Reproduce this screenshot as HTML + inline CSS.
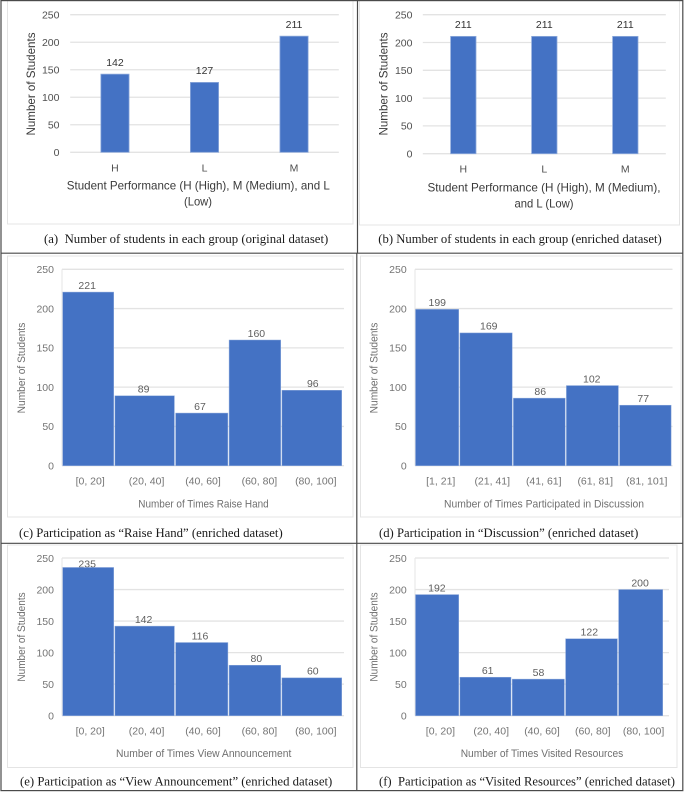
<!DOCTYPE html>
<html lang="en">
<head>
<meta charset="utf-8">
<title>Student performance and participation charts</title>
<style>
  html, body { margin: 0; padding: 0; background: #fff; }
  svg { display: block; }
  .sans { font-family: "Liberation Sans", sans-serif; }
  .serif { font-family: "Liberation Serif", serif; font-size: 12.5px; fill: #1a1a1a; white-space: pre; }
  .title-dark { font-size: 11.8px; fill: #3a3a3a; }
  .title-grey { font-size: 10.8px; fill: #707070; }
  .panel { fill: #fff; stroke: #e4e4e4; stroke-width: 1; }
  .frame { stroke: #4a4a4a; stroke-width: 1.2; fill: none; }
</style>
</head>
<body>
<svg id="figure" width="685" height="792" viewBox="0 0 685 792" xmlns="http://www.w3.org/2000/svg">
  <rect x="0" y="0" width="685" height="792" fill="#fff"/>

  <g>
    <rect class="panel" x="7.5" y="-2" width="345.5" height="226"/>
    <rect class="panel" x="359.5" y="-2" width="320" height="227"/>
    <rect class="panel" x="7.5" y="256" width="345.5" height="261"/>
    <rect class="panel" x="360.5" y="256" width="320.5" height="261"/>
    <rect class="panel" x="7.5" y="545" width="345.5" height="222.5"/>
    <rect class="panel" x="360.5" y="545" width="316.5" height="222.5"/>
  </g>

  <g id="chart-a" class="sans">
    <text class="title-dark" transform="translate(35,84) rotate(-90)" text-anchor="middle" textLength="103" lengthAdjust="spacingAndGlyphs">Number of Students</text>
    <text class="title-dark" x="198.3" y="189.7" text-anchor="middle" textLength="263" lengthAdjust="spacingAndGlyphs">Student Performance (H (High), M (Medium), and L</text>
    <text class="title-dark" x="198" y="205.7" text-anchor="middle" textLength="28" lengthAdjust="spacingAndGlyphs">(Low)</text>
  </g>
  <g id="chart-b" class="sans">
    <text class="title-dark" transform="translate(387.7,84) rotate(-90)" text-anchor="middle" textLength="103" lengthAdjust="spacingAndGlyphs">Number of Students</text>
    <text class="title-dark" x="544" y="191.3" text-anchor="middle" textLength="233" lengthAdjust="spacingAndGlyphs">Student Performance (H (High), M (Medium),</text>
    <text class="title-dark" x="544" y="207.3" text-anchor="middle" textLength="59" lengthAdjust="spacingAndGlyphs">and L (Low)</text>
  </g>
  <g id="chart-c" class="sans">
    <text class="title-grey" transform="translate(25,368) rotate(-90)" text-anchor="middle" textLength="90.7" lengthAdjust="spacingAndGlyphs">Number of Students</text>
    <text class="title-grey" x="203.5" y="507.3" text-anchor="middle" textLength="130.4" lengthAdjust="spacingAndGlyphs">Number of Times Raise Hand</text>
  </g>
  <g id="chart-d" class="sans">
    <text class="title-grey" transform="translate(377.7,368) rotate(-90)" text-anchor="middle" textLength="90.7" lengthAdjust="spacingAndGlyphs">Number of Students</text>
    <text class="title-grey" x="544" y="507.3" text-anchor="middle" textLength="200" lengthAdjust="spacingAndGlyphs">Number of Times Participated in Discussion</text>
  </g>
  <g id="chart-e" class="sans">
    <text class="title-grey" transform="translate(25,637) rotate(-90)" text-anchor="middle" textLength="89.3" lengthAdjust="spacingAndGlyphs">Number of Students</text>
    <text class="title-grey" x="203.7" y="757" text-anchor="middle" textLength="175.3" lengthAdjust="spacingAndGlyphs">Number of Times View Announcement</text>
  </g>
  <g id="chart-f" class="sans">
    <text class="title-grey" transform="translate(377.7,637) rotate(-90)" text-anchor="middle" textLength="89.3" lengthAdjust="spacingAndGlyphs">Number of Students</text>
    <text class="title-grey" x="542" y="757" text-anchor="middle" textLength="162.6" lengthAdjust="spacingAndGlyphs">Number of Times Visited Resources</text>
  </g>

  <g>
    <text class="serif" x="44" y="243" textLength="284.3" lengthAdjust="spacingAndGlyphs">(a)  Number of students in each group (original dataset)</text>
    <text class="serif" x="378.3" y="243" textLength="283.4" lengthAdjust="spacingAndGlyphs">(b) Number of students in each group (enriched dataset)</text>
    <text class="serif" x="19" y="537" textLength="263.7" lengthAdjust="spacingAndGlyphs">(c) Participation as “Raise Hand” (enriched dataset)</text>
    <text class="serif" x="379" y="537" textLength="259.3" lengthAdjust="spacingAndGlyphs">(d) Participation in “Discussion” (enriched dataset)</text>
    <text class="serif" x="20" y="785.7" textLength="312.3" lengthAdjust="spacingAndGlyphs">(e) Participation as “View Announcement” (enriched dataset)</text>
    <text class="serif" x="379" y="785.7" textLength="296" lengthAdjust="spacingAndGlyphs">(f)  Participation as “Visited Resources” (enriched dataset)</text>
  </g>

  <g>
    <rect class="frame" x="1" y="0.6" width="681.8" height="790"/>
    <line class="frame" x1="1" x2="682.8" y1="253.2" y2="253.2"/>
    <line class="frame" x1="1" x2="682.8" y1="543.3" y2="543.3"/>
    <line class="frame" x1="357.5" x2="357.5" y1="0.6" y2="253.2"/>
    <line class="frame" x1="356.8" x2="356.8" y1="253.2" y2="790.6"/>
  </g>
</svg>

<script>
// Shared axis values
const yTicks = [0, 50, 100, 150, 200, 250];
const yMax = 250;

// Panel (a) and (b) data
const groupCategories = ['H', 'L', 'M'];
const valuesA = [142, 127, 211];
const valuesB = [211, 211, 211];

// Panel (c)
const categoriesC = ['[0, 20]', '(20, 40]', '(40, 60]', '(60, 80]', '(80, 100]'];
const valuesC = [221, 89, 67, 160, 96];

// Panel (d)
const categoriesD = ['[1, 21]', '(21, 41]', '(41, 61]', '(61, 81]', '(81, 101]'];
const valuesD = [199, 169, 86, 102, 77];

// Panel (e)
const categoriesE = ['[0, 20]', '(20, 40]', '(40, 60]', '(60, 80]', '(80, 100]'];
const valuesE = [235, 142, 116, 80, 60];

// Panel (f)
const categoriesF = ['[0, 20]', '(20, 40]', '(40, 60]', '(60, 80]', '(80, 100]'];
const valuesF = [192, 61, 58, 122, 200];

const SVG_NS = 'http://www.w3.org/2000/svg';

function yScale(cfg, v) {
  return cfg.y0 - (v / yMax) * (cfg.y0 - cfg.yTop);
}
function bandCenter(cfg, count, i) {
  return cfg.left + (cfg.right - cfg.left) * (i + 0.5) / count;
}
function shape(tag, parent, attrs) {
  const node = document.createElementNS(SVG_NS, tag);
  Object.keys(attrs).forEach(function (k) { node.setAttribute(k, attrs[k]); });
  parent.appendChild(node);
  return node;
}

function drawAxes(cfg, categories) {
  const root = document.getElementById(cfg.id);
  yTicks.forEach(function (t) {
    const py = yScale(cfg, t);
    const grid = shape('line', root, { x1: cfg.left, x2: cfg.right, y1: py, y2: py, stroke: '#e3e3e3', 'stroke-width': 1.3 });
    
    
    const label = shape('text', root, { x: cfg.tickRight, y: py + 3.8, 'text-anchor': 'end', 'font-size': 10.5, fill: cfg.tickColor });
    
    
    label.textContent = String(t);
  });
  categories.forEach(function (c, i) {
    const label = shape('text', root, { x: bandCenter(cfg, categories.length, i), y: cfg.catY + 3.6, 'text-anchor': 'middle', 'font-size': cfg.catFont, fill: cfg.tickColor });
    
    
    label.textContent = c;
  });
  if (cfg.leftAxis) {
    const axis = shape('line', root, { x1: cfg.left, x2: cfg.left, y1: cfg.yTop, y2: cfg.y0, stroke: '#e6e6e6', 'stroke-width': 1 });
    
    
  }
  return root;
}

function drawColumnChart(cfg, categories, values) {
  const root = drawAxes(cfg, categories);
  values.forEach(function (v, i) {
    const cx = bandCenter(cfg, values.length, i);
    const top = yScale(cfg, v);
    const bar = shape('rect', root, { x: cx - cfg.barWidth / 2, y: top, width: cfg.barWidth, height: cfg.y0 - top, fill: '#4472c4', stroke: '#8eaadb', 'stroke-width': 0.8 });
    
    
    const label = shape('text', root, { x: cx, y: top - 8.3, 'text-anchor': 'middle', 'font-size': 10.5, fill: '#333333' });
    
    
    label.textContent = String(v);
  });
}

function drawHistogram(cfg, categories, values) {
  const root = drawAxes(cfg, categories);
  values.forEach(function (v, i) {
    const top = yScale(cfg, v);
    const labelCenter = Math.max(top - 7, cfg.yTop + 5.7);
    const label = shape('text', root, { x: bandCenter(cfg, values.length, i) + cfg.labelShift, y: labelCenter + 3.8, 'text-anchor': 'middle', 'font-size': 10.5, fill: '#5f5f5f' });
    
    
    label.textContent = String(v);
  });
  let edge = cfg.barsLeft;
  values.forEach(function (v, i) {
    const top = yScale(cfg, v);
    const w = cfg.layoutWeights[i];
    const bar = shape('rect', root, { x: edge + 0.6, y: top, width: w - 1.2, height: cfg.y0 - top, fill: '#4472c4', stroke: '#8eaadb', 'stroke-width': 0.5 });
    
    
    edge += w;
  });
}

const darkAxis = { tickColor: '#4f4f4f', catFont: 10.5 };
const greyAxis = { tickColor: '#747474', catFont: 10.5, leftAxis: true };

drawColumnChart(Object.assign({ id: 'chart-a', left: 70.2, right: 338.8, yTop: 14.7, y0: 152.3, tickRight: 59.5, catY: 167.7, barWidth: 28.2 }, darkAxis), groupCategories, valuesA);
drawColumnChart(Object.assign({ id: 'chart-b', left: 422.8, right: 665.8, yTop: 14.7, y0: 153.7, tickRight: 412.5, catY: 169, barWidth: 25.4 }, darkAxis), groupCategories, valuesB);

drawHistogram(Object.assign({ id: 'chart-c', left: 62, right: 344, yTop: 269.3, y0: 465.7, tickRight: 54, catY: 481, labelShift: -3, barsLeft: 62.1, layoutWeights: [52.2, 60.7, 53.5, 52.8, 61] }, greyAxis), categoriesC, valuesC);
drawHistogram(Object.assign({ id: 'chart-d', left: 415, right: 672.5, yTop: 269.3, y0: 465.7, tickRight: 406.7, catY: 481, labelShift: -3.5, barsLeft: 414.9, layoutWeights: [44.4, 53.5, 53, 53.2, 52.7] }, greyAxis), categoriesD, valuesD);
drawHistogram(Object.assign({ id: 'chart-e', left: 62, right: 344, yTop: 558, y0: 715.7, tickRight: 54, catY: 731, labelShift: -3, barsLeft: 62.1, layoutWeights: [52.2, 60.7, 53.5, 52.8, 61] }, greyAxis), categoriesE, valuesE);
drawHistogram(Object.assign({ id: 'chart-f', left: 415, right: 669, yTop: 558, y0: 715.7, tickRight: 406.7, catY: 731, labelShift: -3.5, barsLeft: 414.9, layoutWeights: [44.4, 52.3, 53.4, 53, 45.3] }, greyAxis), categoriesF, valuesF);
</script>
</body>
</html>
